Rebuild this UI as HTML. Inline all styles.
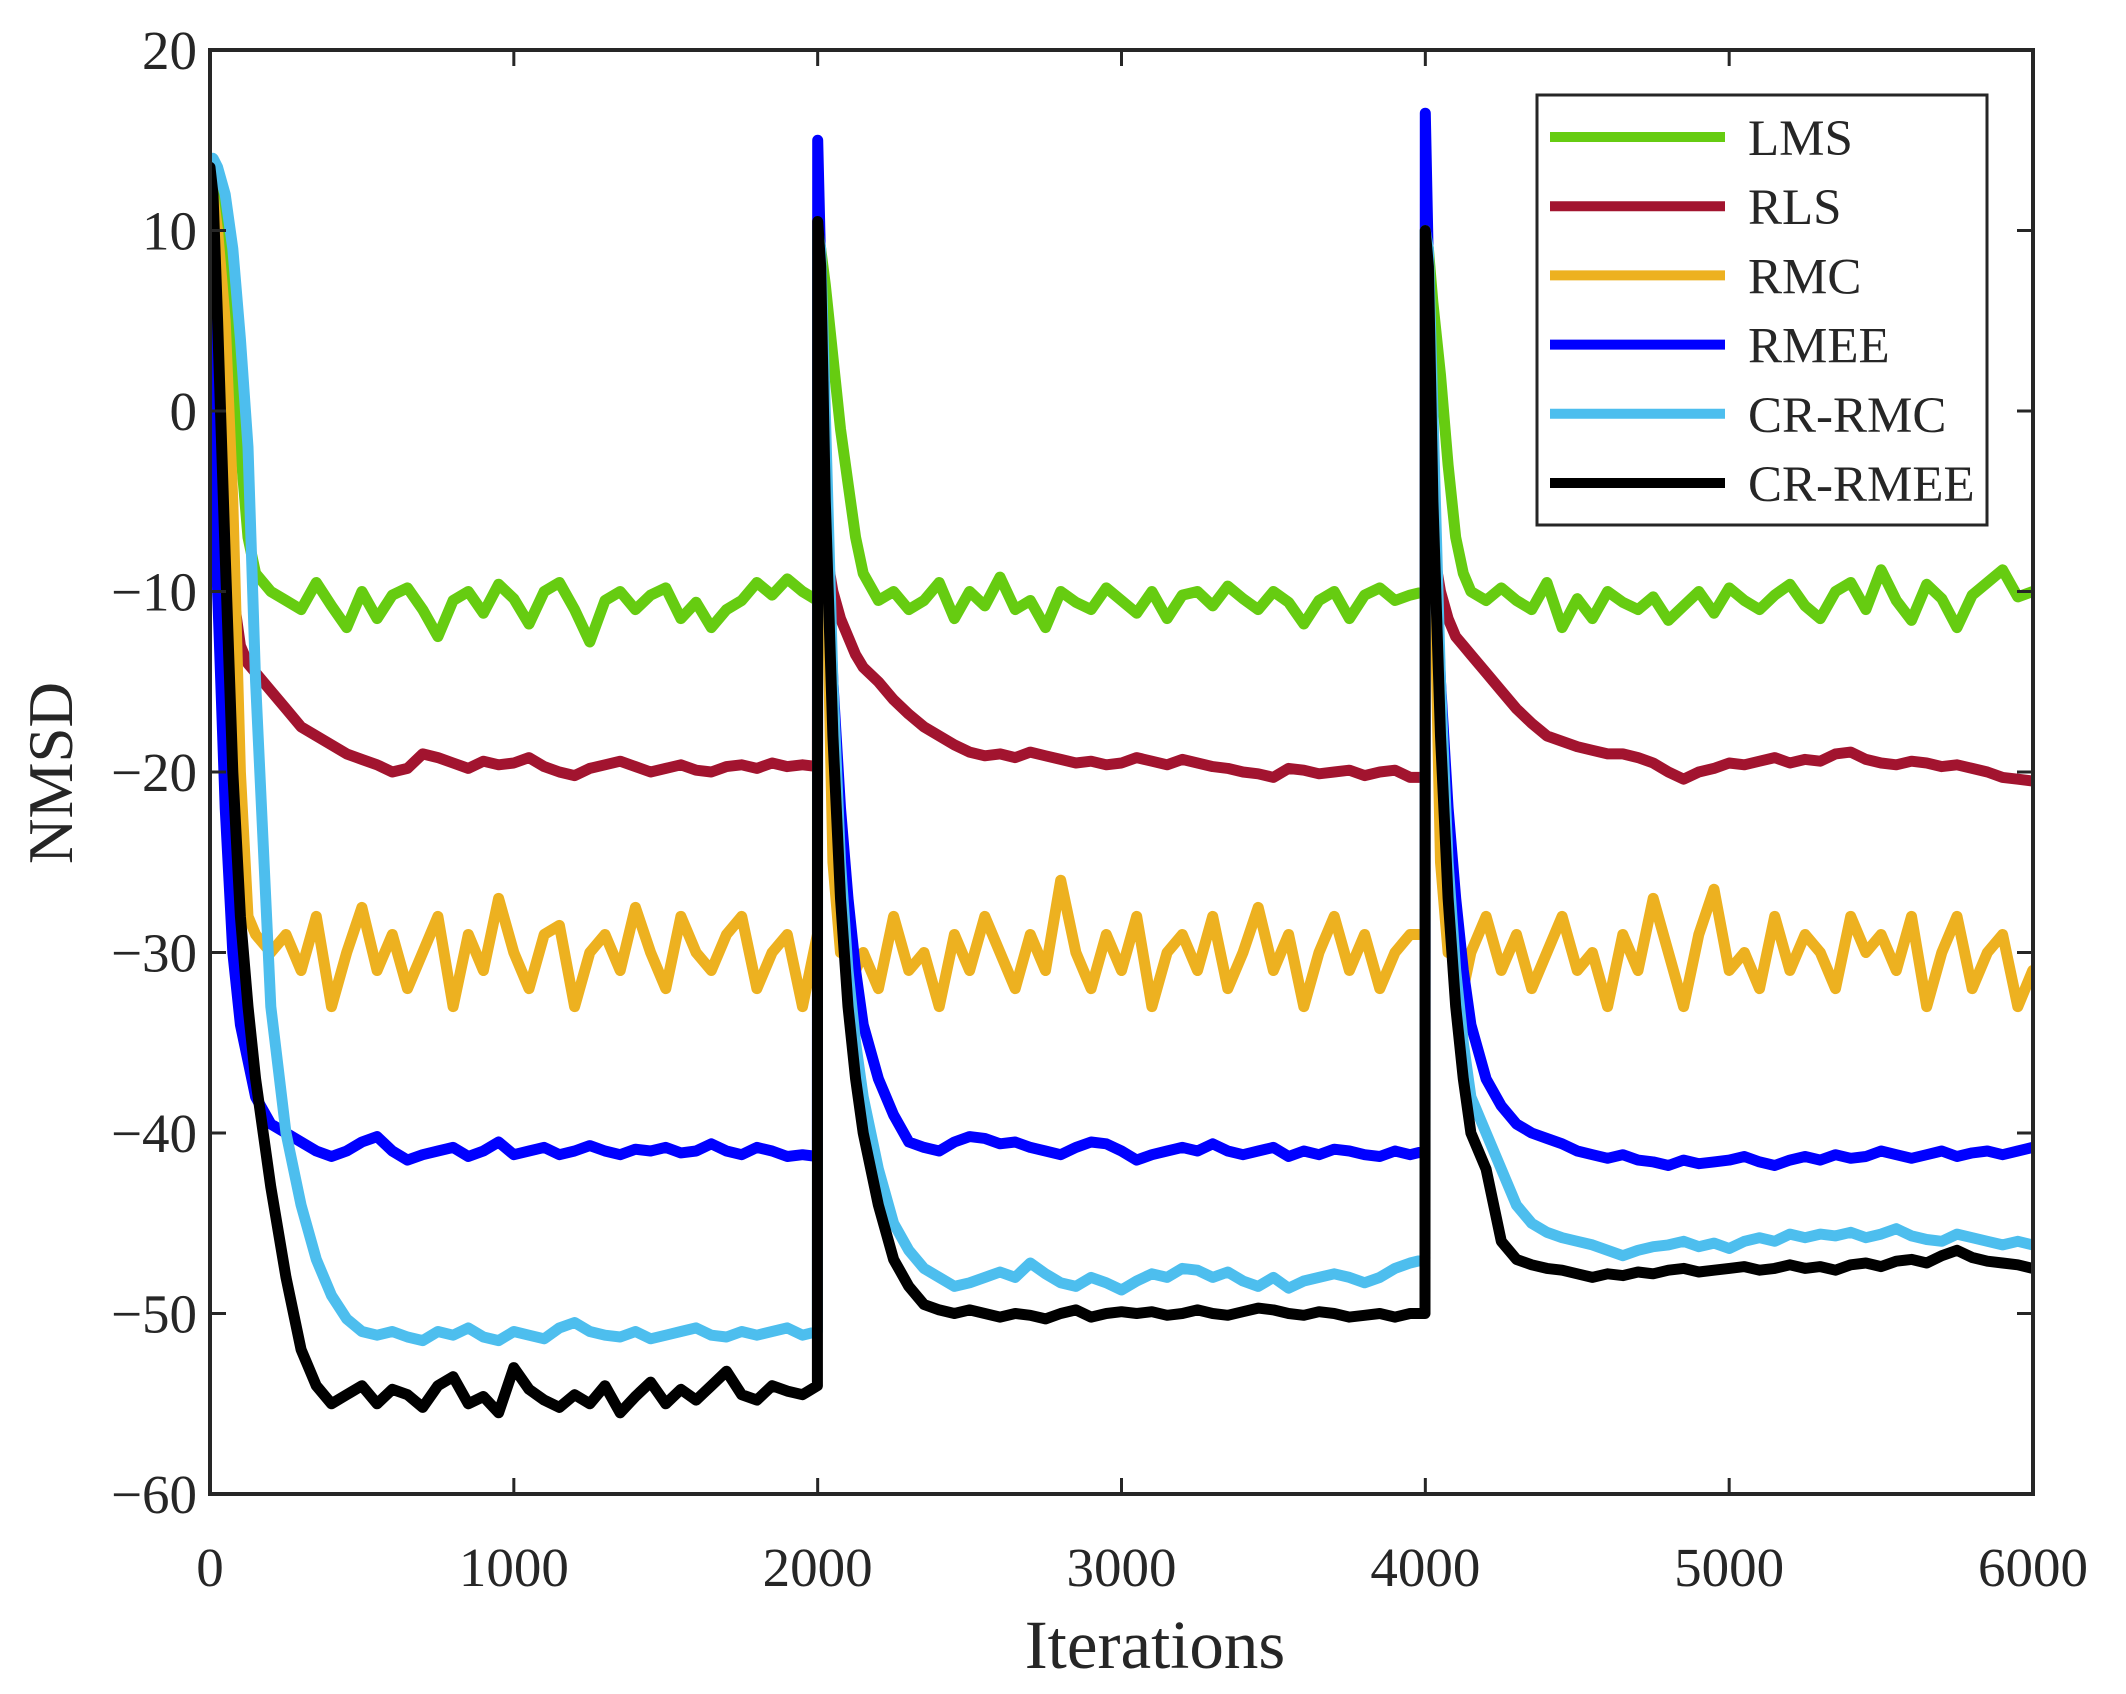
<!DOCTYPE html>
<html><head><meta charset="utf-8">
<style>
html,body{margin:0;padding:0;background:#fff;}
svg{display:block;font-family:"Liberation Serif",serif;}
</style></head>
<body>
<svg id="chart" width="2126" height="1694" viewBox="0 0 2126 1694">
  <rect x="0" y="0" width="2126" height="1694" fill="#fff"/>
  <defs><clipPath id="pc"><rect x="210" y="50" width="1824" height="1444"/></clipPath></defs>
  <g id="series" clip-path="url(#pc)"></g>
  <g id="axes"></g>
  <text x="1155" y="1668" font-size="69" text-anchor="middle" fill="#262626">Iterations</text>
  <text transform="translate(72,773) rotate(-90)" font-size="63" text-anchor="middle" fill="#262626">NMSD</text>
  <g id="legend"></g>
</svg>
<script>
const names = ["LMS","RLS","RMC","RMEE","CR-RMC","CR-RMEE"];
const colors = ["#66cc11","#a2142f","#edb120","#0000ff","#4dbeee","#000000"];
const segStarts = [0,2000,4000];
const segOffsets = [0,10,25,50,75,100,125,150,200,250,300,350,400,450,500,550,600,650,700,750,800,850,900,950,1000,1050,1100,1150,1200,1250,1300,1350,1400,1450,1500,1550,1600,1650,1700,1750,1800,1850,1900,1950,1999];
const xTicks = [0,1000,2000,3000,4000,5000,6000];
const yTicks = [-60,-50,-40,-30,-20,-10,0,10,20];

const lms = [13,13,12,9,4,-2,-7,-9,-10,-10.5,-11,-9.5,-10.8,-12,-10,-11.5,-10.2,-9.8,-11,-12.5,-10.5,-10,-11.2,-9.6,-10.4,-11.8,-10,-9.5,-11,-12.8,-10.5,-10,-11,-10.2,-9.8,-11.5,-10.6,-12,-11,-10.5,-9.5,-10.2,-9.3,-10,-10.5,
10,9,7,3,-1,-4,-7,-9,-10.5,-10,-11,-10.5,-9.5,-11.5,-10,-10.8,-9.2,-11,-10.5,-12,-10,-10.6,-11,-9.8,-10.5,-11.2,-10,-11.5,-10.2,-10,-10.8,-9.7,-10.4,-11,-10,-10.6,-11.8,-10.5,-10,-11.5,-10.2,-9.8,-10.5,-10.2,-10,
10,9,6,2,-3,-7,-9,-10,-10.5,-9.8,-10.5,-11,-9.5,-12,-10.4,-11.5,-10,-10.6,-11,-10.3,-11.6,-10.8,-10,-11.2,-9.8,-10.5,-11,-10.2,-9.6,-10.8,-11.5,-10,-9.5,-11,-8.8,-10.5,-11.6,-9.6,-10.4,-12,-10.2,-9.5,-8.8,-10.3,-10];
const rls = [12,6,0,-6,-10,-13,-14,-14.5,-15.5,-16.5,-17.5,-18,-18.5,-19,-19.3,-19.6,-20,-19.8,-19,-19.2,-19.5,-19.8,-19.4,-19.6,-19.5,-19.2,-19.7,-20,-20.2,-19.8,-19.6,-19.4,-19.7,-20,-19.8,-19.6,-19.9,-20,-19.7,-19.6,-19.8,-19.5,-19.7,-19.6,-19.7,
9,-5,-7.5,-10,-11.5,-12.5,-13.5,-14.2,-15,-16,-16.8,-17.5,-18,-18.5,-18.9,-19.1,-19,-19.2,-18.9,-19.1,-19.3,-19.5,-19.4,-19.6,-19.5,-19.2,-19.4,-19.6,-19.3,-19.5,-19.7,-19.8,-20,-20.1,-20.3,-19.8,-19.9,-20.1,-20,-19.9,-20.2,-20,-19.9,-20.3,-20.3,
9,-5,-7.5,-10,-11.5,-12.5,-13,-13.5,-14.5,-15.5,-16.5,-17.3,-18,-18.3,-18.6,-18.8,-19,-19,-19.2,-19.5,-20,-20.4,-20,-19.8,-19.5,-19.6,-19.4,-19.2,-19.5,-19.3,-19.4,-19,-18.9,-19.3,-19.5,-19.6,-19.4,-19.5,-19.7,-19.6,-19.8,-20,-20.3,-20.4,-20.5];
const rmc = [13,12,10,5,-5,-20,-28,-29,-30,-29,-31,-28,-33,-30,-27.5,-31,-29,-32,-30,-28,-33,-29,-31,-27,-30,-32,-29,-28.5,-33,-30,-29,-31,-27.5,-30,-32,-28,-30,-31,-29,-28,-32,-30,-29,-33,-29,
10,5,-5,-25,-30,-29,-31,-30,-32,-28,-31,-30,-33,-29,-31,-28,-30,-32,-29,-31,-26,-30,-32,-29,-31,-28,-33,-30,-29,-31,-28,-32,-30,-27.5,-31,-29,-33,-30,-28,-31,-29,-32,-30,-29,-29,
10,5,-5,-25,-30,-29,-32,-30,-28,-31,-29,-32,-30,-28,-31,-30,-33,-29,-31,-27,-30,-33,-29,-26.5,-31,-30,-32,-28,-31,-29,-30,-32,-28,-30,-29,-31,-28,-33,-30,-28,-32,-30,-29,-33,-31];
const rmee = [13,5,-10,-22,-30,-34,-36,-38,-39.5,-40,-40.5,-41,-41.3,-41,-40.5,-40.2,-41,-41.5,-41.2,-41,-40.8,-41.3,-41,-40.5,-41.2,-41,-40.8,-41.2,-41,-40.7,-41,-41.2,-40.9,-41,-40.8,-41.1,-41,-40.6,-41,-41.2,-40.8,-41,-41.3,-41.2,-41.3,
15,8,-5,-15,-22,-27,-31,-34,-37,-39,-40.5,-40.8,-41,-40.5,-40.2,-40.3,-40.6,-40.5,-40.8,-41,-41.2,-40.8,-40.5,-40.6,-41,-41.5,-41.2,-41,-40.8,-41,-40.6,-41,-41.2,-41,-40.8,-41.3,-41,-41.2,-40.9,-41,-41.2,-41.3,-41,-41.2,-41,
16.5,8,-5,-15,-22,-27,-31,-34,-37,-38.5,-39.5,-40,-40.3,-40.6,-41,-41.2,-41.4,-41.2,-41.5,-41.6,-41.8,-41.5,-41.7,-41.6,-41.5,-41.3,-41.6,-41.8,-41.5,-41.3,-41.5,-41.2,-41.4,-41.3,-41,-41.2,-41.4,-41.2,-41,-41.3,-41.1,-41,-41.2,-41,-40.8];
const crrmc = [13.5,14,13.5,12,9,4,-2,-15,-33,-40,-44,-47,-49,-50.3,-51,-51.2,-51,-51.3,-51.5,-51,-51.2,-50.8,-51.3,-51.5,-51,-51.2,-51.4,-50.8,-50.5,-51,-51.2,-51.3,-51,-51.4,-51.2,-51,-50.8,-51.2,-51.3,-51,-51.2,-51,-50.8,-51.2,-51,
10,9,0,-15,-25,-31,-35,-38,-42,-45,-46.5,-47.5,-48,-48.5,-48.3,-48,-47.7,-48,-47.2,-47.8,-48.3,-48.5,-48,-48.3,-48.7,-48.2,-47.8,-48,-47.5,-47.6,-48,-47.7,-48.2,-48.5,-48,-48.6,-48.2,-48,-47.8,-48,-48.3,-48,-47.5,-47.2,-47,
10,9,0,-15,-25,-31,-35,-38,-40,-42,-44,-45,-45.5,-45.8,-46,-46.2,-46.5,-46.8,-46.5,-46.3,-46.2,-46,-46.3,-46.1,-46.4,-46,-45.8,-46,-45.6,-45.8,-45.6,-45.7,-45.5,-45.8,-45.6,-45.3,-45.7,-45.9,-46,-45.6,-45.8,-46,-46.2,-46,-46.2];
const crrmee = [13.5,12,5,-8,-20,-28,-33,-37,-43,-48,-52,-54,-55,-54.5,-54,-55,-54.2,-54.5,-55.2,-54,-53.5,-55,-54.6,-55.5,-53,-54.2,-54.8,-55.2,-54.5,-55,-54,-55.5,-54.6,-53.8,-55,-54.2,-54.8,-54,-53.2,-54.5,-54.8,-54,-54.3,-54.5,-54,
10.5,8,-5,-18,-27,-33,-37,-40,-44,-47,-48.5,-49.5,-49.8,-50,-49.8,-50,-50.2,-50,-50.1,-50.3,-50,-49.8,-50.2,-50,-49.9,-50,-49.9,-50.1,-50,-49.8,-50,-50.1,-49.9,-49.7,-49.8,-50,-50.1,-49.9,-50,-50.2,-50.1,-50,-50.2,-50,-50,
10,8,-5,-18,-27,-33,-37,-40,-42,-46,-47,-47.3,-47.5,-47.6,-47.8,-48,-47.8,-47.9,-47.7,-47.8,-47.6,-47.5,-47.7,-47.6,-47.5,-47.4,-47.6,-47.5,-47.3,-47.5,-47.4,-47.6,-47.3,-47.2,-47.4,-47.1,-47,-47.2,-46.8,-46.5,-46.9,-47.1,-47.2,-47.3,-47.5];

const seriesData = [lms, rls, rmc, rmee, crrmc, crrmee];
const iters = [];
segStarts.forEach(s => segOffsets.forEach(o => iters.push(s + o)));

const L = 210, R = 2033, T = 50, B = 1494;
const xS = v => L + (v / 6000) * (R - L);
const yS = v => T + (20 - v) / 80 * (B - T);
const NS = "http://www.w3.org/2000/svg";
const mk = (tag, attrs, parent) => { const e = document.createElementNS(NS, tag); for (const k in attrs) e.setAttribute(k, attrs[k]); parent.appendChild(e); return e; };

const sg = document.getElementById('series');
seriesData.forEach((vals, i) => {
  const d = vals.map((v, j) => (j ? 'L' : 'M') + xS(iters[j]).toFixed(1) + ' ' + yS(v).toFixed(1)).join(' ');
  const p = mk('path', {d: d, fill: 'none', stroke: colors[i], 'stroke-width': 11, 'stroke-linejoin': 'round', 'stroke-linecap': 'round'}, sg);
  
  
});

const ax = document.getElementById('axes');
const frame = mk('rect', {x: L, y: T, width: R - L, height: B - T, fill: 'none', stroke: '#262626', 'stroke-width': 4}, ax);


xTicks.forEach(t => {
  const x = xS(t);
  mk('line', {x1: x, y1: B, x2: x, y2: B - 16, stroke: '#262626', 'stroke-width': 3}, ax);
  mk('line', {x1: x, y1: T, x2: x, y2: T + 16, stroke: '#262626', 'stroke-width': 3}, ax);
  const tx = mk('text', {x: x, y: 1586, 'font-size': 55, 'text-anchor': 'middle', fill: '#262626'}, ax);
  tx.textContent = String(t);
  
  
});
yTicks.forEach(t => {
  const y = yS(t);
  mk('line', {x1: L, y1: y, x2: L + 16, y2: y, stroke: '#262626', 'stroke-width': 3}, ax);
  mk('line', {x1: R, y1: y, x2: R - 16, y2: y, stroke: '#262626', 'stroke-width': 3}, ax);
  const tx = mk('text', {x: 197, y: y + 19, 'font-size': 55, 'text-anchor': 'end', fill: '#262626'}, ax);
  tx.textContent = t < 0 ? '\u2212' + Math.abs(t) : String(t);
  
  
});

const lg = document.getElementById('legend');
const box = mk('rect', {x: 1537, y: 95, width: 450, height: 430, fill: '#fff', stroke: '#262626', 'stroke-width': 3}, lg);


names.forEach((n, i) => {
  const y = 137 + i * 69.2;
  const ln = mk('line', {x1: 1550, y1: y, x2: 1725, y2: y, stroke: colors[i], 'stroke-width': 10}, lg);
  
  
  const tx = mk('text', {x: 1748, y: y + 18, 'font-size': 51, fill: '#262626'}, lg);
  tx.textContent = n;
  
  
});
</script>
</body></html>
